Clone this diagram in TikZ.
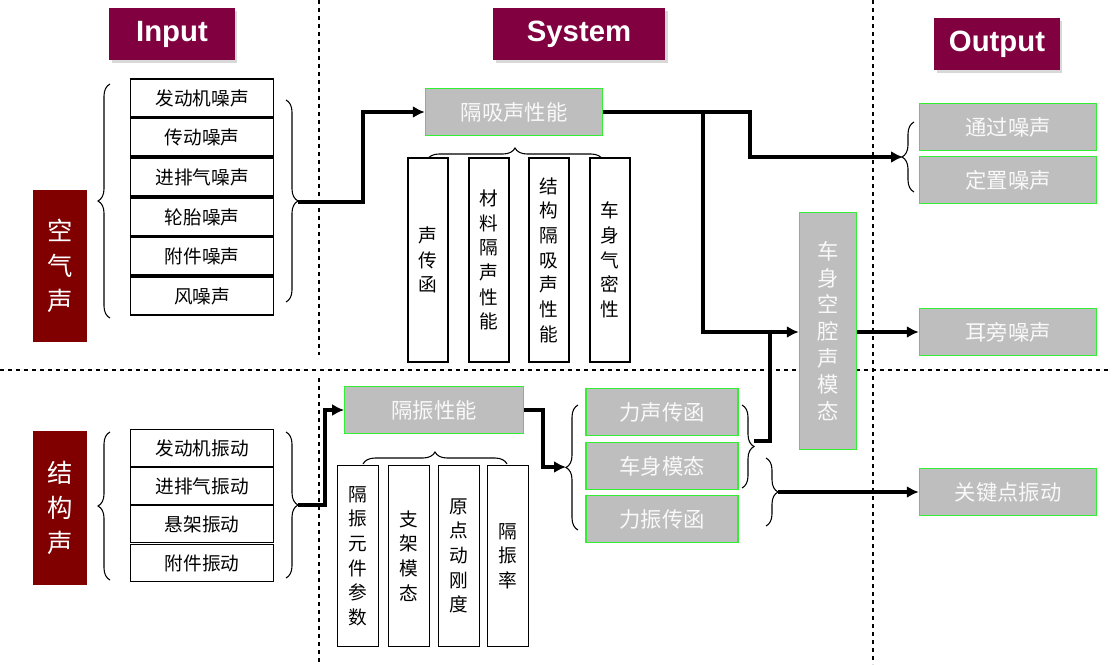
\documentclass[tikz,border=0pt]{standalone}
\usepackage{fontspec}
\setmainfont{Liberation Sans}
\newfontfamily\cjk{Noto Sans CJK SC}
\usetikzlibrary{arrows.meta,decorations.pathreplacing,shadows}

\definecolor{headred}{HTML}{800040}
\definecolor{srcred}{HTML}{800000}
\definecolor{boxgray}{HTML}{BEBEBE}
\definecolor{boxgreen}{HTML}{33EE33}

\tikzset{
  head/.style={fill=headred, text=white, font=\fontsize{22}{24}\selectfont\bfseries, inner sep=0pt,
    drop shadow={fill=gray!60, shadow xshift=2pt, shadow yshift=-2pt}},
  src/.style={fill=srcred, text=white, font=\cjk\fontsize{19}{26}\selectfont, inner sep=0pt, align=center},
  inbox/.style={draw, thick, fill=white, font=\cjk\fontsize{14}{16}\selectfont, inner sep=0pt},
  sysbox/.style={draw=boxgreen, thick, fill=boxgray, text=white!95!gray, font=\cjk\fontsize{16}{18}\selectfont, inner sep=0pt},
  vbox/.style={draw, thick, fill=white, font=\cjk\fontsize{14}{18.5}\selectfont, inner sep=0pt, align=center},
  link/.style={line width=2.6pt, -{Latex[length=9pt,width=9pt]}},
  line/.style={line width=2.6pt},
  brc/.style={decorate, decoration={brace, amplitude=9pt}, thick},
  sep/.style={dashed, thick}
}

\begin{document}
\begin{tikzpicture}[x=0.75pt, y=-0.75pt]
  \useasboundingbox (0,0) rectangle (1112,664);

  % separators
  \draw[sep] (319,0) -- (319,355);
  \draw[sep] (319,378) -- (319,664);
  \draw[sep] (873,0) -- (873,664);
  \draw[sep] (0,370) -- (1112,370);

  % headers
  \node[head, minimum width=94pt, minimum height=39pt] (input) at (172,34) {Input};
  \node[head, minimum width=129pt, minimum height=39pt] (system) at (579,34) {System};
  \node[head, minimum width=94pt, minimum height=39pt] (output) at (997,44) {Output};

  % sources
  \node[src, minimum width=41pt, minimum height=114pt] (air) at (60,266) {空\\气\\声};
  \node[src, minimum width=41pt, minimum height=115pt] (struct) at (60,508) {结\\构\\声};

  % airborne inputs
  \foreach \name/\txt/\y in {a1/发动机噪声/98, a2/传动噪声/137, a3/进排气噪声/177,
                             a4/轮胎噪声/217, a5/附件噪声/256, a6/风噪声/296}
    \node[inbox, minimum width=107pt, minimum height=28.5pt] (\name) at (202,\y) {\txt};
  \draw[brc] (110,318) -- (110,84);
  \draw[brc] (286,100) -- (286,302);

  % structural inputs
  \foreach \name/\txt/\y in {s1/发动机振动/448, s2/进排气振动/486, s3/悬架振动/524, s4/附件振动/563}
    \node[inbox, minimum width=107pt, minimum height=28pt] (\name) at (202,\y) {\txt};
  \draw[brc] (110,580) -- (110,432);
  \draw[brc] (286,432) -- (286,578);

  % absorption branch
  \node[sysbox, minimum width=133pt, minimum height=35pt] (absorb) at (514,112) {隔吸声性能};
  \draw[brc] (427,160) -- (603,160);
  \foreach \name/\txt/\x in {v1/{声\\传\\函}/428, v2/{材\\料\\隔\\声\\性\\能}/489,
                             v3/{结\\构\\隔\\吸\\声\\性\\能}/549, v4/{车\\身\\气\\密\\性}/610}
    \node[vbox, minimum width=30pt, minimum height=153pt] (\name) at (\x,260) {\txt};

  % isolation branch
  \node[sysbox, minimum width=134pt, minimum height=35pt] (isolate) at (434,410) {隔振性能};
  \draw[brc] (363,464) -- (507,464);
  \foreach \name/\txt/\x in {w1/{隔\\振\\元\\件\\参\\数}/358, w2/{支\\架\\模\\态}/409,
                             w3/{原\\点\\动\\刚\\度}/459, w4/{隔\\振\\率}/508}
    \node[vbox, minimum width=31pt, minimum height=136pt] (\name) at (\x,556) {\txt};

  % transfer functions
  \node[sysbox, minimum width=114pt, minimum height=35pt] (fsound) at (662,412) {力声传函};
  \node[sysbox, minimum width=114pt, minimum height=35pt] (bodymode) at (662,466) {车身模态};
  \node[sysbox, minimum width=114pt, minimum height=35pt] (fvib) at (662,519) {力振传函};
  \draw[brc] (578,530) -- (578,405);
  \draw[brc] (742,405) -- (742,488);
  \draw[brc] (766,458) -- (766,526);

  % cavity mode
  \node[sysbox, minimum width=43pt, minimum height=178pt, align=center,
        font=\cjk\fontsize{16}{20}\selectfont] (cavity) at (828,331) {车\\身\\空\\腔\\声\\模\\态};

  % outputs
  \node[sysbox, minimum width=133pt, minimum height=35pt] (pass) at (1008,127) {通过噪声};
  \node[sysbox, minimum width=133pt, minimum height=35pt] (still) at (1008,180) {定置噪声};
  \node[sysbox, minimum width=133pt, minimum height=35pt] (ear) at (1008,332) {耳旁噪声};
  \node[sysbox, minimum width=133pt, minimum height=35pt] (keypt) at (1008,492) {关键点振动};
  \draw[brc] (914,192) -- (914,122);

  % flow
  \coordinate (aout) at (298,202);
  \coordinate (sout) at (298,505);
  \coordinate (tfin) at (566,467);
  \coordinate (outin) at (903,157);
  \coordinate (tfout) at (754,441);
  \coordinate (vibout) at (778,492);
  \draw[link] (aout) -- (363,202) |- (absorb.west);
  \draw[link] (absorb.east) -- (750,112) |- (outin);
  \draw[link] (703,112) |- (cavity.west |- ear);
  \draw[link] (cavity.east |- ear) -- (ear.west);
  \draw[link] (sout) -- (325,505) |- (isolate.west);
  \draw[link] (isolate.east) -- (543,410) |- (tfin);
  \draw[line] (tfout) -- (770,441) -- (770,332);
  \draw[link] (vibout) -- (keypt.west);
\end{tikzpicture}
\end{document}
